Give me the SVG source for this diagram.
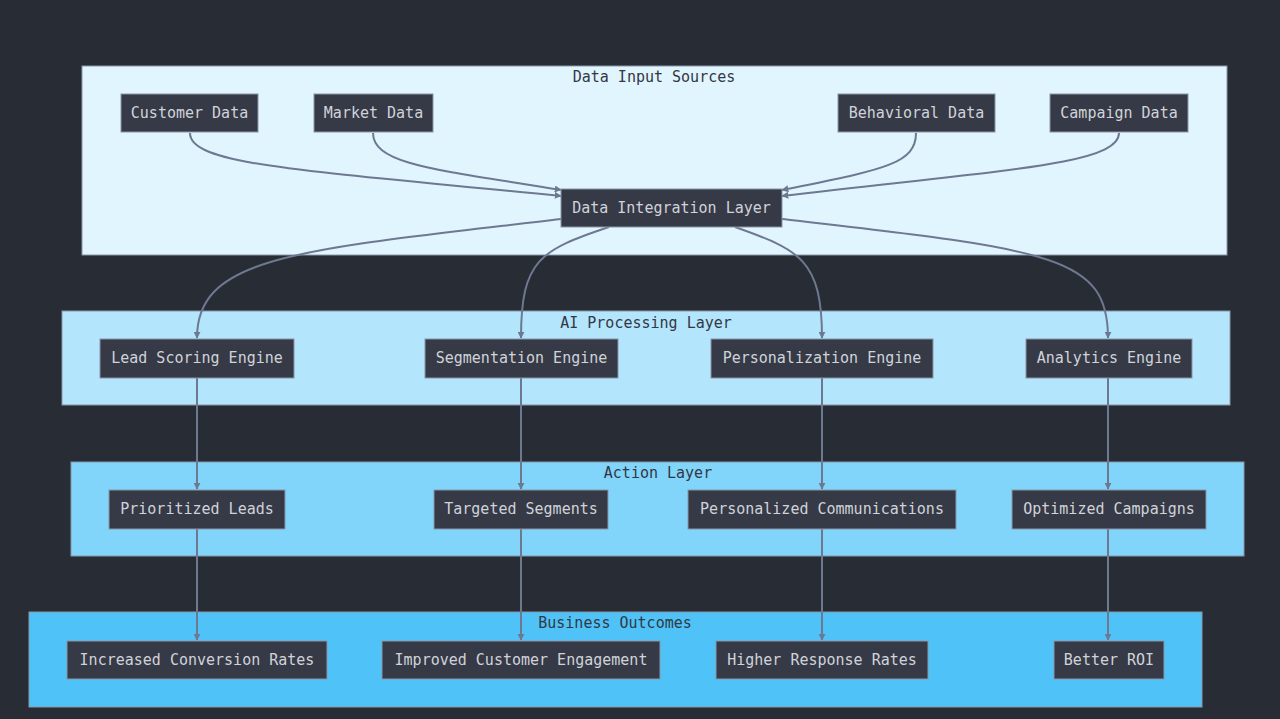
<svg xmlns="http://www.w3.org/2000/svg" width="1280" height="719" viewBox="0 0 1280 719">
<style>
.cl{stroke:#8a96a8;stroke-width:1}
.n rect{fill:#363a46;stroke:#8a96a8;stroke-width:1}
text{font-family:"DejaVu Sans Mono","Liberation Mono",monospace;font-size:15px;text-anchor:middle;dominant-baseline:central}
.n text{fill:#d0d3da}
.t{fill:#333844}
.e path{fill:none;stroke:#6e7891;stroke-width:2;marker-end:url(#a)}
</style>
<defs><marker id="a" viewBox="0 0 10 10" refX="9" refY="5" markerWidth="7" markerHeight="7" markerUnits="userSpaceOnUse" orient="auto"><path d="M0,0L10,5L0,10z" fill="#6e7891"/></marker></defs>
<rect width="1280" height="719" fill="#282c34"/>
<g id="c1"><rect class="cl" x="82" y="66" width="1145" height="189" fill="#e1f5fe"/><text class="t" x="654" y="77">Data Input Sources</text></g>
<g id="c2"><rect class="cl" x="62" y="311" width="1168" height="94" fill="#b3e5fc"/><text class="t" x="646" y="323">AI Processing Layer</text></g>
<g id="c3"><rect class="cl" x="71" y="462" width="1173" height="94" fill="#81d4fa"/><text class="t" x="658" y="473">Action Layer</text></g>
<g id="c4"><rect class="cl" x="29" y="612" width="1173" height="95" fill="#4fc3f7"/><text class="t" x="615" y="623">Business Outcomes</text></g>
<g class="e" id="edges">
<path d="M190,133 C190,165 300,170 561,196"/>
<path d="M373,133 C373,165 440,170 561,190"/>
<path d="M916,133 C916,165 880,170 782,190"/>
<path d="M1119,133 C1119,165 1000,170 782,196"/>
<path d="M561,219 C300,250 197,255 197,338"/>
<path d="M609,227 C540,250 521,260 521,338"/>
<path d="M735,227 C800,250 822,260 822,338"/>
<path d="M782,219 C1050,250 1108,255 1108,338"/>
<path d="M197,378V489"/><path d="M521,378V489"/><path d="M822,378V489"/><path d="M1108,378V489"/>
<path d="M197,529V640"/><path d="M521,529V640"/><path d="M822,529V640"/><path d="M1108,529V640"/>
</g>
<g class="n" id="n1"><rect x="121" y="94" width="137" height="38"/><text x="189.5" y="113">Customer Data</text></g>
<g class="n" id="n2"><rect x="314" y="94" width="119" height="38"/><text x="373.5" y="113">Market Data</text></g>
<g class="n" id="n3"><rect x="838" y="94" width="157" height="38"/><text x="916.5" y="113">Behavioral Data</text></g>
<g class="n" id="n4"><rect x="1050" y="94" width="138" height="38"/><text x="1119" y="113">Campaign Data</text></g>
<g class="n" id="n5"><rect x="561" y="189" width="221" height="38"/><text x="671.5" y="208">Data Integration Layer</text></g>
<g class="n" id="n6"><rect x="100" y="339" width="194" height="39"/><text x="197" y="358">Lead Scoring Engine</text></g>
<g class="n" id="n7"><rect x="425" y="339" width="193" height="39"/><text x="521.5" y="358">Segmentation Engine</text></g>
<g class="n" id="n8"><rect x="711" y="339" width="222" height="39"/><text x="822" y="358">Personalization Engine</text></g>
<g class="n" id="n9"><rect x="1026" y="339" width="166" height="39"/><text x="1109" y="358">Analytics Engine</text></g>
<g class="n" id="n10"><rect x="109" y="490" width="176" height="39"/><text x="197" y="509">Prioritized Leads</text></g>
<g class="n" id="n11"><rect x="434" y="490" width="174" height="39"/><text x="521" y="509">Targeted Segments</text></g>
<g class="n" id="n12"><rect x="688" y="490" width="268" height="39"/><text x="822" y="509">Personalized Communications</text></g>
<g class="n" id="n13"><rect x="1012" y="490" width="194" height="39"/><text x="1109" y="509">Optimized Campaigns</text></g>
<g class="n" id="n14"><rect x="67" y="641" width="260" height="38"/><text x="197" y="660">Increased Conversion Rates</text></g>
<g class="n" id="n15"><rect x="382" y="641" width="278" height="38"/><text x="521" y="660">Improved Customer Engagement</text></g>
<g class="n" id="n16"><rect x="716" y="641" width="212" height="38"/><text x="822" y="660">Higher Response Rates</text></g>
<g class="n" id="n17"><rect x="1054" y="641" width="110" height="38"/><text x="1109" y="660">Better ROI</text></g>
</svg>
